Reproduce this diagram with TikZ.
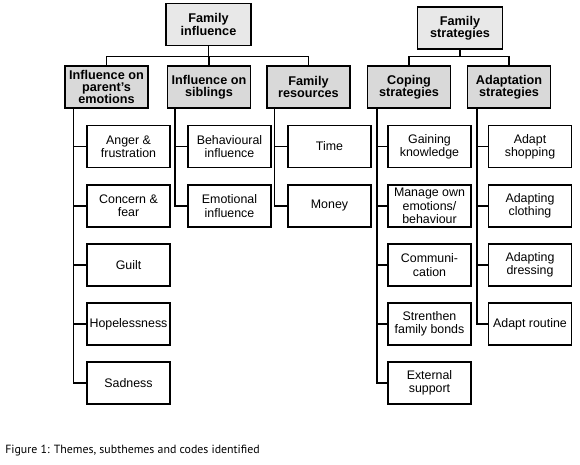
\documentclass[tikz,border=0pt]{standalone}
\usepackage{fontspec}
\setmainfont{Liberation Sans}
\newfontfamily\captionfont{PT Sans}
\usetikzlibrary{calc}

\begin{document}
\begin{tikzpicture}[x=0.75pt,y=-0.75pt,
  codebox/.style={draw,line width=0.8pt,minimum width=62.25pt,minimum height=31.5pt,align=center,inner sep=1pt,font=\fontsize{9.3}{10}\selectfont},
  themebox/.style={codebox,fill=black!9,minimum width=63.75pt,font=\fontsize{9.5}{9.2}\selectfont\bfseries},
  subbox/.style={codebox,fill=black!15,font=\fontsize{9.5}{9.2}\selectfont\bfseries},
  tree/.style={line width=0.8pt}]
  \useasboundingbox (0,0) rectangle (580,464);
  % themes
  \node[themebox] (fi) at (208.5,24.5) {Family\\influence};
  \node[themebox] (fs) at (460,28) {Family\\strategies};
  % subthemes
  \node[subbox] (pe) at (106.5,87) {Influence on\\parent's\\emotions};
  \node[subbox] (sb) at (209,87) {Influence on\\siblings};
  \node[subbox] (fr) at (308.5,87) {Family\\resources};
  \node[subbox] (cs) at (409,87) {Coping\\strategies};
  \node[subbox] (as) at (509,87) {Adaptation\\strategies};
  % codes: parent's emotions
  \node[codebox] (pe1) at (128.5,146.5) {Anger \&\\frustration};
  \node[codebox] (pe2) at (128.5,206) {Concern \&\\fear};
  \node[codebox] (pe3) at (128.5,265) {Guilt};
  \node[codebox] (pe4) at (128.5,324) {Hopelessness};
  \node[codebox] (pe5) at (128.5,383) {Sadness};
  % codes: siblings
  \node[codebox] (sb1) at (229.5,146.5) {Behavioural\\influence};
  \node[codebox] (sb2) at (229.5,206) {Emotional\\influence};
  % codes: resources
  \node[codebox] (fr1) at (329.5,146.5) {Time};
  \node[codebox] (fr2) at (329.5,206) {Money};
  % codes: coping
  \node[codebox] (cs1) at (429.5,146.5) {Gaining\\knowledge};
  \node[codebox] (cs2) at (429.5,206) {Manage own\\emotions/\\behaviour};
  \node[codebox] (cs3) at (429.5,265) {Communi-\\cation};
  \node[codebox] (cs4) at (429.5,324) {Strenthen\\family bonds};
  \node[codebox] (cs5) at (429.5,383) {External\\support};
  % codes: adaptation
  \node[codebox] (as1) at (530,146.5) {Adapt\\shopping};
  \node[codebox] (as2) at (530,206) {Adapting\\clothing};
  \node[codebox] (as3) at (530,265) {Adapting\\dressing};
  \node[codebox] (as4) at (530,324) {Adapt routine};
  % theme to subthemes
  \draw[tree] (fi.south) -- ($(fi.south |- sb.north)+(0,-9)$);
  \draw[tree] (pe.north) -- ($(pe.north)+(0,-9)$) -| (fr.north);
  \draw[tree] (sb.north) -- ($(sb.north)+(0,-9)$);
  \draw[tree] (fs.south) -- ($(fs.south |- cs.north)+(0,-9)$);
  \draw[tree] (cs.north) -- ($(cs.north)+(0,-9)$) -| (as.north);
  % subthemes to codes
  \coordinate (peS) at ($(pe.south west)+(9,0)$);
  \coordinate (sbS) at ($(sb.south west)+(8,0)$);
  \coordinate (frS) at ($(fr.south west)+(8,0)$);
  \coordinate (csS) at ($(cs.south west)+(10,0)$);
  \coordinate (asS) at ($(as.south west)+(10,0)$);
  \foreach \c in {pe1,pe2,pe3,pe4,pe5} \draw[tree] (peS) |- (\c.west);
  \foreach \c in {sb1,sb2} \draw[tree] (sbS) |- (\c.west);
  \foreach \c in {fr1,fr2} \draw[tree] (frS) |- (\c.west);
  \foreach \c in {cs1,cs2,cs3,cs4,cs5} \draw[tree] (csS) |- (\c.west);
  \foreach \c in {as1,as2,as3,as4} \draw[tree] (asS) |- (\c.west);
  % caption
  \node[anchor=west,inner sep=0pt,font=\captionfont\fontsize{8.9}{10}\selectfont] (cap) at (5,451) {Figure 1: Themes, subthemes and codes identified};
\end{tikzpicture}
\end{document}
